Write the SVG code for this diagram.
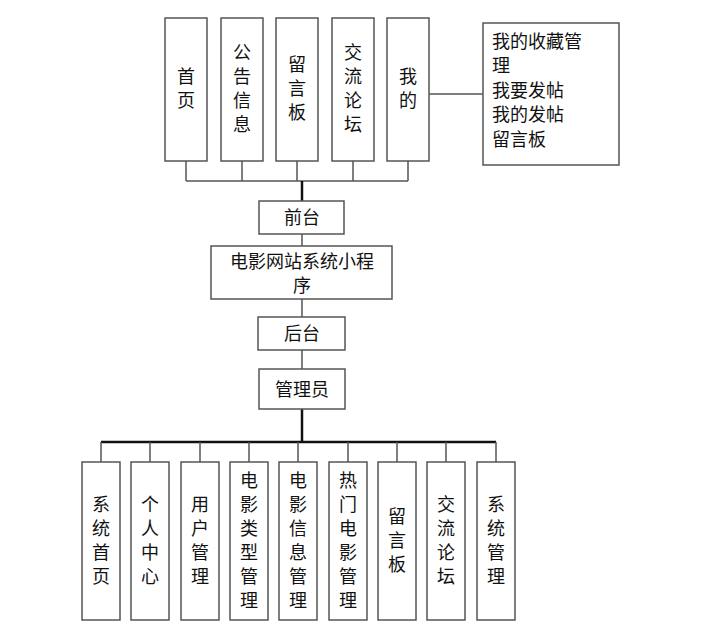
<svg xmlns="http://www.w3.org/2000/svg" width="727" height="639" viewBox="0 0 727 639">
<style>
rect{fill:#fff;stroke:#555;stroke-width:1.5}
text{font-family:"Liberation Serif","Noto Sans CJK SC",serif;font-size:18px;fill:#111;text-anchor:middle}
.l{text-anchor:start}
#conn line{stroke:#555;stroke-width:1.5}
#conn .b{stroke:#111;stroke-width:2.5}
</style>
<rect x="0" y="0" width="727" height="639" style="fill:#fff;stroke:none"/>
<g id="conn">
<line x1="186" y1="161" x2="186" y2="181"/><line x1="242" y1="161" x2="242" y2="181"/><line x1="297" y1="161" x2="297" y2="181"/><line x1="353" y1="161" x2="353" y2="181"/><line x1="408" y1="161" x2="408" y2="181"/>
<line x1="186" y1="181" x2="408" y2="181"/>
<line class="b" x1="302" y1="181" x2="302" y2="201"/>
<line x1="429" y1="94" x2="483" y2="94"/>
<line x1="302" y1="234" x2="302" y2="246"/>
<line x1="302" y1="299" x2="302" y2="317"/>
<line x1="302" y1="350" x2="302" y2="369"/>
<line class="b" x1="302" y1="409" x2="302" y2="442"/>
<line class="b" x1="101" y1="442" x2="496" y2="442"/>
<line x1="101" y1="442" x2="101" y2="462"/><line x1="150" y1="442" x2="150" y2="462"/><line x1="200" y1="442" x2="200" y2="462"/><line x1="249" y1="442" x2="249" y2="462"/><line x1="298" y1="442" x2="298" y2="462"/><line x1="348" y1="442" x2="348" y2="462"/><line x1="397" y1="442" x2="397" y2="462"/><line x1="446" y1="442" x2="446" y2="462"/><line x1="496" y1="442" x2="496" y2="462"/>
</g>
<g id="n1"><rect x="165" y="18" width="42" height="143"/><text x="186" y="83">首</text><text x="186" y="107">页</text></g>
<g id="n2"><rect x="221" y="18" width="42" height="143"/><text x="242" y="59">公</text><text x="242" y="83">告</text><text x="242" y="107">信</text><text x="242" y="131">息</text></g>
<g id="n3"><rect x="276" y="18" width="42" height="143"/><text x="297" y="71">留</text><text x="297" y="95">言</text><text x="297" y="119">板</text></g>
<g id="n4"><rect x="332" y="18" width="42" height="143"/><text x="353" y="59">交</text><text x="353" y="83">流</text><text x="353" y="107">论</text><text x="353" y="131">坛</text></g>
<g id="n5"><rect x="387" y="18" width="42" height="143"/><text x="408" y="83">我</text><text x="408" y="107">的</text></g>
<g id="n6"><rect x="483" y="23" width="136" height="142"/><text class="l" x="492" y="48">我的收藏管</text><text class="l" x="492" y="72">理</text><text class="l" x="492" y="97">我要发帖</text><text class="l" x="492" y="121">我的发帖</text><text class="l" x="492" y="146">留言板</text></g>
<g id="n7"><rect x="259" y="201" width="85" height="33"/><text x="302" y="224">前台</text></g>
<g id="n8"><rect x="211" y="246" width="181" height="53"/><text x="302" y="268">电影网站系统小程</text><text x="302" y="292">序</text></g>
<g id="n9"><rect x="258" y="317" width="87" height="33"/><text x="302" y="340">后台</text></g>
<g id="n10"><rect x="259" y="369" width="86" height="40"/><text x="302" y="396">管理员</text></g>
<g id="b1"><rect x="82" y="462" width="38" height="158"/><text x="101" y="511">系</text><text x="101" y="535">统</text><text x="101" y="559">首</text><text x="101" y="583">页</text></g>
<g id="b2"><rect x="131" y="462" width="38" height="158"/><text x="150" y="511">个</text><text x="150" y="535">人</text><text x="150" y="559">中</text><text x="150" y="583">心</text></g>
<g id="b3"><rect x="181" y="462" width="38" height="158"/><text x="200" y="511">用</text><text x="200" y="535">户</text><text x="200" y="559">管</text><text x="200" y="583">理</text></g>
<g id="b4"><rect x="230" y="462" width="38" height="158"/><text x="249" y="487">电</text><text x="249" y="511">影</text><text x="249" y="535">类</text><text x="249" y="559">型</text><text x="249" y="583">管</text><text x="249" y="607">理</text></g>
<g id="b5"><rect x="279" y="462" width="38" height="158"/><text x="298" y="487">电</text><text x="298" y="511">影</text><text x="298" y="535">信</text><text x="298" y="559">息</text><text x="298" y="583">管</text><text x="298" y="607">理</text></g>
<g id="b6"><rect x="329" y="462" width="38" height="158"/><text x="348" y="487">热</text><text x="348" y="511">门</text><text x="348" y="535">电</text><text x="348" y="559">影</text><text x="348" y="583">管</text><text x="348" y="607">理</text></g>
<g id="b7"><rect x="378" y="462" width="38" height="158"/><text x="397" y="523">留</text><text x="397" y="547">言</text><text x="397" y="571">板</text></g>
<g id="b8"><rect x="427" y="462" width="38" height="158"/><text x="446" y="511">交</text><text x="446" y="535">流</text><text x="446" y="559">论</text><text x="446" y="583">坛</text></g>
<g id="b9"><rect x="477" y="462" width="38" height="158"/><text x="496" y="511">系</text><text x="496" y="535">统</text><text x="496" y="559">管</text><text x="496" y="583">理</text></g>
</svg>
